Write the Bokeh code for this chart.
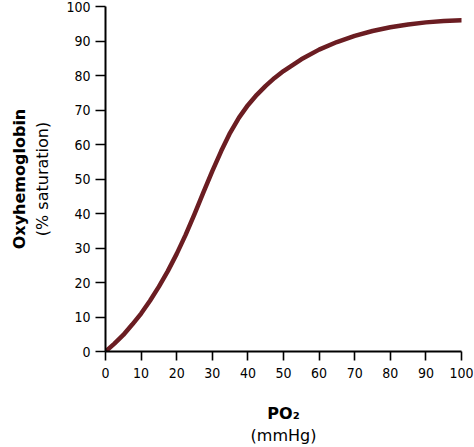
from bokeh.plotting import figure
from bokeh.models import Range1d, LinearAxis, FixedTicker
from bokeh.embed import file_html
from bokeh.resources import INLINE

# Oxyhemoglobin dissociation curve: partial pressure of O2 vs % saturation
po2_mmhg = [0, 2.5, 5, 7.5, 10, 12.5, 15, 17.5, 20, 22.5, 25, 27.5, 30, 32.5, 35,
            37.5, 40, 42.5, 45, 47.5, 50, 55, 60, 65, 70, 75, 80, 85, 90, 95, 100]
saturation_pct = [0, 2.3, 4.8, 7.8, 11, 14.7, 18.8, 23.3, 28.3, 33.8, 39.8, 46.1,
                  52.3, 58.1, 63.4, 67.8, 71.4, 74.4, 77.0, 79.3, 81.3, 84.7, 87.5,
                  89.7, 91.5, 92.9, 94.0, 94.8, 95.4, 95.8, 96.0]
tick_values = [0, 10, 20, 30, 40, 50, 60, 70, 80, 90, 100]

FONT = "DejaVu Sans"
TICK_FONT = "DejaVu Sans Condensed"
CURVE_COLOR = "#6b1d22"

p = figure(width=474, height=447, output_backend="svg", toolbar_location=None,
           x_range=Range1d(0, 100), y_range=Range1d(0, 100),
           min_border_left=105, min_border_right=13, min_border_top=6,
           min_border_bottom=96)
p.outline_line_color = None
p.xgrid.visible = False
p.ygrid.visible = False
p.background_fill_color = "white"
p.border_fill_color = "white"

p.line(po2_mmhg, saturation_pct, line_color=CURVE_COLOR, line_width=4.5,
       line_cap="round", line_join="round")


def style_axis(ax):
    ax.ticker = FixedTicker(ticks=tick_values)
    ax.axis_line_color = "black"
    ax.axis_line_width = 2
    ax.major_tick_line_color = "black"
    ax.major_tick_line_width = 1.6
    ax.major_tick_in = 0
    ax.minor_tick_line_color = None
    ax.major_label_text_font = TICK_FONT
    ax.major_label_text_font_size = "14px"
    ax.major_label_text_color = "black"
    ax.axis_label_text_font = FONT
    ax.axis_label_text_color = "black"
    ax.axis_label_text_font_style = "normal"


# main axes: ticks, tick labels and the inner (plain) title line
xa = p.xaxis[0]
style_axis(xa)
xa.major_tick_out = 9
xa.major_label_standoff = 7
xa.axis_label = "PO₂"
xa.axis_label_text_font_style = "bold"
xa.axis_label_text_font_size = "16px"
xa.axis_label_standoff = 23

ya = p.yaxis[0]
style_axis(ya)
ya.major_tick_out = 10
ya.major_label_standoff = 5
ya.axis_label = "(% saturation)"
ya.axis_label_text_font_size = "16px"
ya.axis_label_standoff = 11


def title_only_axis(label, bold, standoff):
    ax = LinearAxis(ticker=FixedTicker(ticks=[]), axis_line_color=None,
                    major_tick_line_color=None, minor_tick_line_color=None,
                    major_label_text_font_size="0px", axis_label=label,
                    axis_label_text_font=FONT, axis_label_text_font_size="16px",
                    axis_label_text_color="black",
                    axis_label_text_font_style="bold" if bold else "normal",
                    axis_label_standoff=standoff)
    return ax


# second title lines sit in their own outer axes
p.add_layout(title_only_axis("(mmHg)", False, 0), "below")
p.add_layout(title_only_axis("Oxyhemoglobin", True, 2), "left")

open("out.html", "w").write(file_html(p, INLINE))
